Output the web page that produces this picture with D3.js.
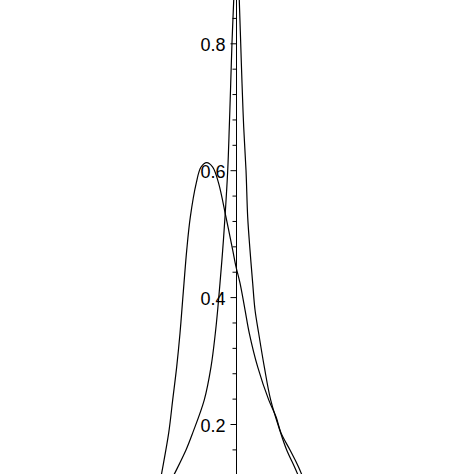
<!DOCTYPE html>
<html>
<head>
<meta charset="utf-8">
<script src="https://cdn.jsdelivr.net/npm/d3@7/dist/d3.min.js"></script>
<style>
  html, body { margin: 0; padding: 0; background: #fff; overflow: hidden; }
  svg { display: block; }
</style>
</head>
<body>
<svg id="chart" width="474" height="474"></svg>
<script>
// Sharp (cusp-like) curve
const sharpX = [-1.37, -1.183, -0.961, -0.833, -0.613, -0.485, -0.403, -0.358, -0.314, -0.263, -0.219, -0.167, -0.137, -0.110, -0.086, -0.053, 0,
                0.053, 0.080, 0.105, 0.137, 0.181, 0.213, 0.257, 0.308, 0.352, 0.422, 0.529, 0.650, 0.840, 0.955, 1.100, 1.164, 1.35];
const sharpY = [0.090, 0.121, 0.159, 0.186, 0.238, 0.290, 0.343, 0.380, 0.422, 0.474, 0.526, 0.600, 0.668, 0.737, 0.800, 0.868, 1.000,
                0.868, 0.800, 0.737, 0.668, 0.600, 0.526, 0.474, 0.422, 0.380, 0.343, 0.290, 0.238, 0.186, 0.159, 0.133, 0.121, 0.085];

// Broad, skewed curve
const broadX = [-1.551, -1.427, -1.290, -1.214, -1.138, -1.075, -1.024, -0.999, -0.947, -0.879, -0.765, -0.675, -0.567,
                -0.453, -0.342, -0.200, -0.072, -0.010, 0.067, 0.162, 0.244, 0.403, 0.613, 0.752, 0.847, 1.018, 1.176, 1.436];
const broadY = [0.065, 0.121, 0.186, 0.238, 0.290, 0.343, 0.396, 0.422, 0.474, 0.526, 0.580, 0.605, 0.612,
                0.605, 0.580, 0.526, 0.474, 0.448, 0.422, 0.380, 0.343, 0.290, 0.238, 0.2115, 0.186, 0.159, 0.133, 0.080];

// Axis ticks
const majorTicks = [0.2, 0.4, 0.6, 0.8];
const majorLabels = ["0.2", "0.4", "0.6", "0.8"];
const minorTicks = [0.04, 0.08, 0.12, 0.16, 0.24, 0.28, 0.32, 0.36, 0.44, 0.48, 0.52, 0.56, 0.64, 0.68, 0.72, 0.76, 0.84, 0.88];

const W = 474, H = 474;
const svg = d3.select("#chart");

const x = d3.scaleLinear().domain([-4.5, 4.5]).range([0, 473]);
const y = d3.scaleLinear().domain([0.2, 0.8]).range([424, 43.3]);

const x0 = x(0);

// y axis line spanning full height
svg.append("line")
  .attr("x1", x0).attr("x2", x0)
  .attr("y1", 0).attr("y2", H)
  .attr("stroke", "#000").attr("stroke-width", 1);

// minor ticks
const minorAxis = d3.axisLeft(y).tickValues(minorTicks).tickSize(4).tickFormat("");
const gMinor = svg.append("g").attr("transform", `translate(${x0},0)`).call(minorAxis);
gMinor.select(".domain").remove();
gMinor.selectAll(".tick line").attr("stroke", "#000");

// major ticks with labels
const majorAxis = d3.axisLeft(y).tickValues(majorTicks).tickSize(6).tickPadding(5)
  .tickFormat((d, i) => majorLabels[i]);
const gMajor = svg.append("g").attr("transform", `translate(${x0},0)`).call(majorAxis);
gMajor.select(".domain").remove();
gMajor.selectAll(".tick line").attr("stroke", "#000");
gMajor.selectAll(".tick text")
  .attr("fill", "#000")
  .style("font-family", "'Liberation Sans', Arial, Helvetica, sans-serif")
  .style("font-size", "18px")
  .attr("dy", "0.40em");

const line = d3.line()
  .x(d => x(d[0]))
  .y(d => y(d[1]))
  .curve(d3.curveCatmullRom.alpha(0.5));

const sharp = sharpX.map((v, i) => [v, sharpY[i]]);
const broad = broadX.map((v, i) => [v, broadY[i]]);

svg.append("path").datum(broad)
  .attr("d", line)
  .attr("fill", "none").attr("stroke", "#000").attr("stroke-width", 1.2);

svg.append("path").datum(sharp)
  .attr("d", line)
  .attr("fill", "none").attr("stroke", "#000").attr("stroke-width", 1.2);
</script>
</body>
</html>
